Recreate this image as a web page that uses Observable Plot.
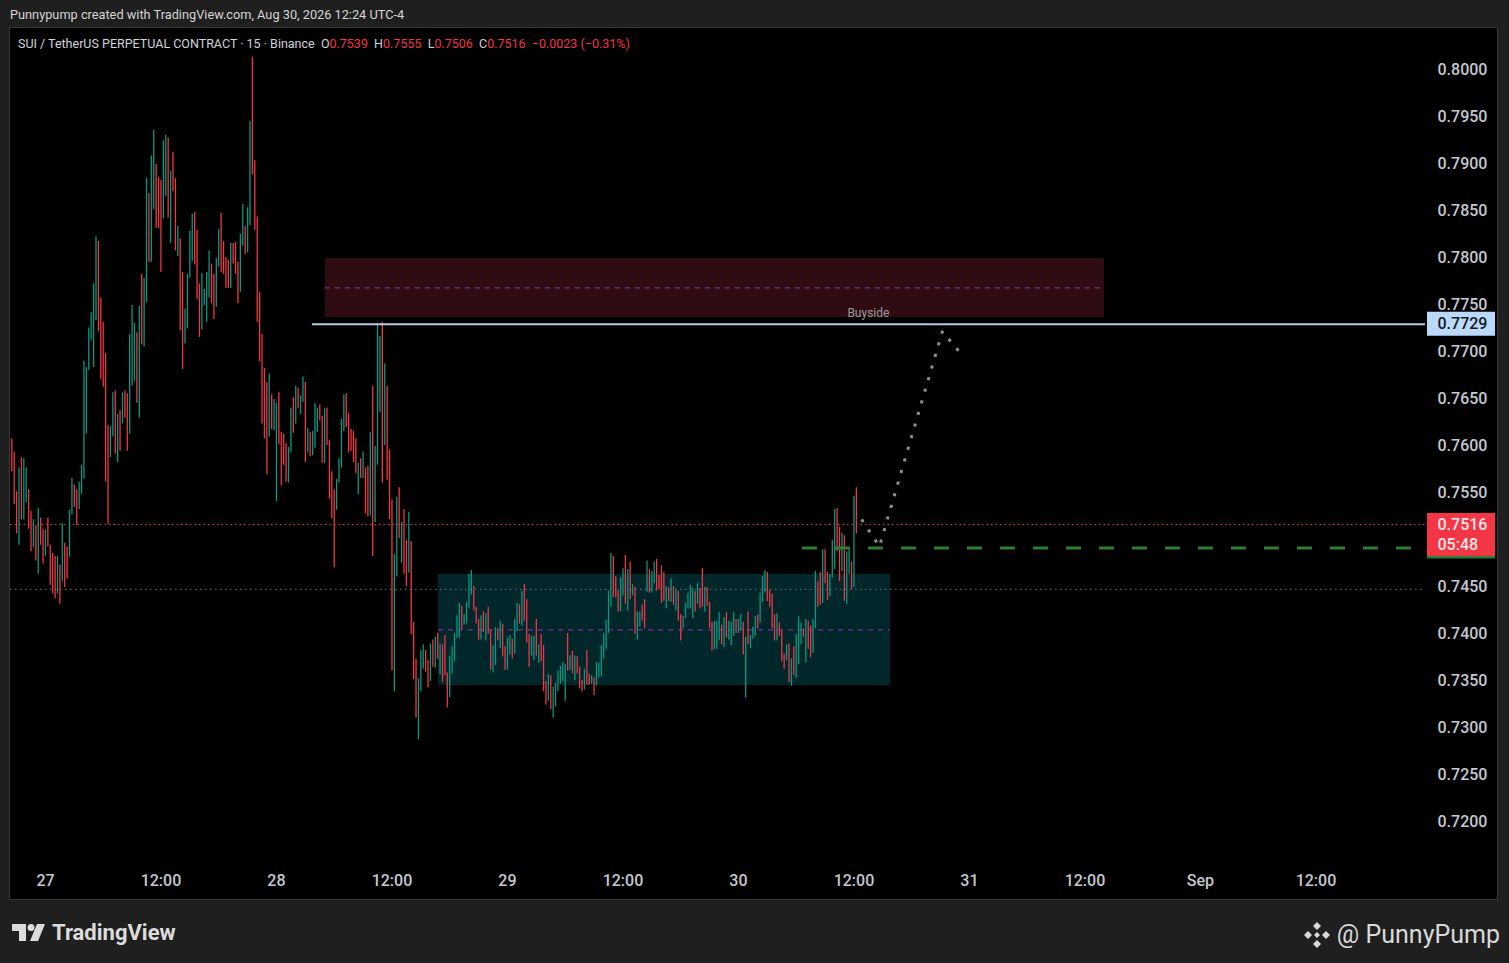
<!DOCTYPE html>
<html>
<head>
<meta charset="utf-8">
<script src="https://cdn.jsdelivr.net/npm/d3@7"></script>
<script src="https://cdn.jsdelivr.net/npm/@observablehq/plot@0.6"></script>
<style>
  body { margin: 0; width: 1509px; height: 963px; overflow: hidden; background: #1f1f1f; position: relative; font-family: Roboto, sans-serif; }
  #head { position: absolute; left: 10px; top: 7px; font-size: 12.75px; line-height: 16px; color: #d6d6d6; }
  #panel { position: absolute; left: 9px; top: 27px; width: 1487px; height: 871px; border: 1px solid #383838; background: #000; }
  #legend { position: absolute; left: 8px; top: 8px; font-size: 12.5px; line-height: 15px; color: #d1d4dc; white-space: pre; }
  #legend .v { color: #f23645; }
  #logo { position: absolute; left: 12px; top: 920px; display: flex; align-items: center; gap: 7px; color: #dcdcdc; font-size: 22px; font-weight: 700; }
  #sign { position: absolute; right: 9px; top: 920px; display: flex; align-items: center; gap: 6px; color: #d9d9d9; font-size: 25px; }
</style>
</head>
<body>
<div id="head">Punnypump created with TradingView.com, Aug 30, 2026 12:24 UTC-4</div>
<div id="panel">
  <div id="chart"></div>
  <div id="legend">SUI / TetherUS PERPETUAL CONTRACT · 15 · Binance  O<span class="v">0.7539</span>  H<span class="v">0.7555</span>  L<span class="v">0.7506</span>  C<span class="v">0.7516</span>  <span class="v">−0.0023 (−0.31%)</span></div>
</div>
<div id="logo">
  <svg width="33" height="17" viewBox="0 0 33 17"><path d="M0 0H14V17H7V7H0Z" fill="#dcdcdc"/><circle cx="19" cy="3.5" r="3.5" fill="#dcdcdc"/><path d="M25 0H33L26 17H18Z" fill="#dcdcdc"/></svg>
  <span>TradingView</span>
</div>
<div id="sign">
  <svg width="28" height="28" viewBox="0 0 28 28" fill="#d9d9d9"><path d="M14 1l4 4-4 4-4-4z"/><path d="M14 19l4 4-4 4-4-4z"/><path d="M5 10l4 4-4 4-4-4z"/><path d="M23 10l4 4-4 4-4-4z"/><path d="M14 11l3 3-3 3-3-3z"/></svg>
  <span>@ PunnyPump</span>
</div>
<script>
// 15 minute bars, SUI/USDT perp, first bar Aug 26 20:30 (UTC-4 wall clock)
const firstBar = "2026-08-26T20:30Z"
const barMinutes = 15

// lows and highs in 0.0001 units
const lows = [
  7572,7537,7506,7494,7521,7521,7539,7511,7487,7491, 7477,7463,7494,7474,7482,7492,7451,7442,7437,7442,
  7431,7455,7449,7458,7481,7526,7534,7515,7532,7548, 7564,7612,7680,7712,7683,7733,7721,7670,7662,7561,
  7516,7587,7609,7591,7582,7594,7623,7629,7594,7612, 7663,7668,7645,7629,7707,7705,7752,7795,7795,7851,
  7831,7831,7784,7841,7865,7842,7815,7870,7807,7801, 7722,7681,7708,7724,7778,7796,7792,7755,7715,7723,
  7749,7731,7757,7751,7734,7747,7790,7784,7782,7767, 7767,7767,7793,7782,7751,7763,7812,7803,7805,7834,
  7888,7829,7731,7689,7623,7607,7569,7609,7617,7616, 7540,7601,7557,7579,7561,7560,7592,7613,7623,7639,
  7633,7646,7582,7592,7588,7589,7597,7614,7626,7581, 7581,7600,7543,7522,7470,7531,7560,7576,7615,7619,
  7592,7594,7582,7570,7548,7565,7565,7527,7524,7525, 7482,7518,7579,7635,7560,7600,7563,7521,7360,7338,
  7460,7501,7475,7463,7450,7464,7399,7351,7310,7287, 7338,7362,7359,7342,7349,7364,7363,7372,7356,7348,
  7355,7321,7332,7357,7370,7395,7395,7404,7409,7410, 7427,7441,7424,7410,7393,7393,7401,7392,7399,7361,
  7358,7366,7392,7384,7375,7361,7361,7377,7373,7378, 7402,7410,7408,7413,7390,7364,7376,7371,7376,7368,
  7370,7338,7324,7328,7319,7310,7322,7338,7346,7349, 7328,7360,7361,7357,7350,7357,7341,7338,7340,7345,
  7345,7346,7334,7344,7353,7354,7373,7383,7400,7428, 7438,7438,7423,7423,7440,7431,7424,7436,7440,7399,
  7393,7407,7413,7405,7444,7443,7443,7453,7445,7447, 7432,7434,7426,7434,7433,7430,7424,7413,7392,7405,
  7416,7426,7426,7416,7423,7431,7426,7428,7423,7429, 7405,7381,7383,7383,7392,7388,7385,7395,7393,7387,
  7397,7400,7400,7403,7377,7331,7388,7384,7394,7397, 7405,7411,7433,7443,7434,7428,7405,7392,7392,7397,
  7370,7362,7371,7348,7344,7355,7352,7367,7388,7396, 7369,7383,7374,7379,7405,7428,7430,7432,7453,7435,
  7439,7459,7468,7487,7455,7466,7434,7431,7463,7447, 7449,7506
]
const highs = [
  7607,7593,7551,7576,7587,7586,7576,7553,7530,7521, 7515,7533,7523,7510,7510,7523,7494,7485,7482,7482,
  7473,7517,7496,7492,7531,7565,7558,7553,7561,7579, 7690,7683,7725,7741,7772,7822,7817,7757,7731,7698,
  7621,7620,7656,7658,7633,7637,7656,7658,7655,7718, 7749,7730,7720,7748,7782,7778,7884,7868,7908,7935,
  7899,7885,7882,7924,7930,7927,7892,7912,7884,7833, 7820,7784,7745,7782,7828,7846,7848,7829,7772,7783,
  7766,7784,7807,7793,7782,7799,7830,7847,7817,7800, 7797,7815,7815,7816,7795,7825,7856,7833,7853,7945,
  8013,7903,7843,7763,7718,7682,7667,7676,7654,7649, 7645,7656,7614,7612,7602,7598,7640,7651,7663,7661,
  7653,7673,7667,7618,7614,7615,7645,7640,7643,7631, 7639,7640,7605,7572,7553,7564,7586,7628,7654,7655,
  7634,7617,7615,7607,7581,7586,7593,7576,7578,7614, 7663,7599,7729,7716,7731,7687,7663,7595,7542,7484,
  7545,7555,7518,7532,7499,7529,7498,7412,7373,7352, 7382,7388,7382,7371,7389,7393,7396,7400,7389,7388,
  7398,7358,7376,7386,7400,7419,7432,7429,7420,7433, 7463,7467,7450,7428,7415,7419,7423,7421,7428,7403,
  7387,7406,7405,7413,7410,7386,7395,7398,7394,7415, 7432,7431,7445,7452,7436,7399,7397,7397,7415,7388,
  7399,7387,7349,7356,7355,7343,7347,7360,7365,7369, 7367,7400,7376,7381,7376,7375,7364,7350,7362,7382,
  7357,7355,7353,7369,7368,7387,7400,7414,7445,7485, 7482,7460,7446,7459,7469,7483,7468,7476,7452,7449,
  7423,7423,7430,7436,7477,7468,7466,7476,7479,7462, 7472,7465,7450,7449,7458,7450,7447,7445,7420,7418,
  7432,7442,7451,7448,7445,7453,7448,7469,7449,7449, 7433,7412,7413,7413,7422,7409,7417,7422,7413,7412,
  7422,7415,7415,7420,7412,7396,7423,7398,7407,7418, 7420,7443,7461,7467,7465,7446,7442,7420,7421,7411,
  7403,7378,7388,7389,7373,7386,7399,7418,7411,7405, 7415,7413,7408,7415,7466,7455,7465,7489,7489,7465,
  7463,7499,7532,7533,7513,7507,7504,7487,7489,7476, 7546,7555
]
// G = close above open, R = close below open
const dirs =
  "RRRGRGGRRG" + "RGRRGRRRRG" + "RGRRGGRRGG" + "GGGGGGRRRR" + "RGGRGRGRRG" +
  "GGRGRGGRGG" + "RRRGGRGRRG" + "RRGGGGRRRG" + "GGGRRGGRRR" + "RGRRRGGRGG" +
  "RRRRRRRGRG" + "GRRRRGGRGR" + "GGRGRGGGRR" + "GRRRRGGGGR" + "RRRRGRGRRG" +
  "RGGGRGRRRG" + "GRGRRGRRRG" + "GGRRGRGRGR" + "RRGGGGGRGG" + "GGRRRGRGRR" +
  "GGRGRRGGRG" + "GRGRRRGGRG" + "RRRGRGGGGG" + "GRGRGRRRGR" + "RGRGGGGGGG" +
  "RRRGGRGRGR" + "GGRRGRGGRR" + "RRGRGRGRRG" + "GGGGRGRRGR" + "RRGGGRGRGG" +
  "GRGGRGRGGG" + "RGGGRRRRGR" + "RRGRGRGGGR" + "GRRGGRRGRR" + "GGGRRGRGGR" + "GR"

// zones drawn on the chart
const zoneStart = ["2026-08-28T05:05Z", "2026-08-28T16:50Z"]
const zoneEnd   = ["2026-08-31T14:02Z", "2026-08-30T15:48Z"]
const zoneLow   = [0.77362, 0.73447]
const zoneHigh  = [0.7799, 0.74628]

const buysidePrice = 0.7729
const buysideStart = "2026-08-28T03:44Z"
const entryPrice = 0.7491
const entryStart = "2026-08-30T06:39Z"
const lastPrice = 0.7516
const prevLevel = 0.7447
const countdown = "05:48"

// projected path
const pathTimes = ["2026-08-30T12:53Z", "2026-08-30T14:39Z", "2026-08-30T21:11Z", "2026-08-30T22:45Z"]
const pathPrices = [0.7520, 0.74926, 0.77213, 0.77021]

// 0.7500 sits under the last price label, so it is not shown
const priceTicks = [0.72, 0.725, 0.73, 0.735, 0.74, 0.745, 0.755, 0.76, 0.765, 0.77, 0.775, 0.78, 0.785, 0.79, 0.795, 0.80]
const timeTicks = ["2026-08-27T00:00Z", "2026-08-27T12:00Z", "2026-08-28T00:00Z", "2026-08-28T12:00Z", "2026-08-29T00:00Z", "2026-08-29T12:00Z",
  "2026-08-30T00:00Z", "2026-08-30T12:00Z", "2026-08-31T00:00Z", "2026-08-31T12:00Z", "2026-09-01T00:00Z", "2026-09-01T12:00Z"]
const timeLabels = ["27", "12:00", "28", "12:00", "29", "12:00", "30", "12:00", "31", "12:00", "Sep", "12:00"]

const green = "#089981", red = "#f23645"
const t0 = new Date(firstBar).getTime()
const candles = lows.map((l, i) => ({
  t: new Date(t0 + i * barMinutes * 60000),
  lo: l / 1e4,
  hi: highs[i] / 1e4,
  up: dirs[i] == "G"
}))

const zones = zoneStart.map((s, i) => ({
  x1: new Date(s), x2: new Date(zoneEnd[i]), y1: zoneLow[i], y2: zoneHigh[i], mid: (zoneLow[i] + zoneHigh[i]) / 2
}))
const path = pathTimes.map((t, i) => ({t: new Date(t), p: pathPrices[i]}))
const tTicks = timeTicks.map(d => new Date(d))

const xDomain = [new Date("2026-08-26T20:22Z"), new Date("2026-09-01T23:23Z")]
const xEnd = xDomain[1]

let chart = Plot.plot({
  width: 1487,
  height: 871,
  marginLeft: 0,
  marginRight: 72,
  marginTop: 0,
  marginBottom: 37,
  x: {type: "utc", domain: xDomain},
  y: {domain: [0.715638, 0.804362]},
  style: {
    background: "#000",
    color: "#c5c8cf",
    fontFamily: "Roboto, sans-serif",
    fontSize: "16px",
    overflow: "visible"
  },
  marks: [
    Plot.rect(zones, {x1: "x1", x2: "x2", y1: "y1", y2: "y2", fill: (d, i) => i == 0 ? "#2f0c12" : "#01272b"}),
    Plot.ruleY(zones, {y: "mid", x1: "x1", x2: "x2", stroke: "#9c27b0", strokeOpacity: 0.85, strokeWidth: 1.3, strokeDasharray: "5 5"}),
    Plot.ruleY([prevLevel], {stroke: "#6f727a", strokeDasharray: "1.5 3.5"}),
    Plot.ruleY([lastPrice], {stroke: red, strokeDasharray: "1.5 3"}),
    Plot.ruleX(candles, {x: "t", y1: "lo", y2: "hi", stroke: d => d.up ? green : red, strokeWidth: 1.3}),
    Plot.ruleY([{p: buysidePrice, x1: new Date(buysideStart)}], {y: "p", x1: "x1", x2: () => xEnd, stroke: "#b3cdea", strokeWidth: 2}),
    Plot.text([{p: buysidePrice}], {x: () => new Date("2026-08-30T13:30Z"), y: "p", text: () => "Buyside", dy: -11, fill: "#9a9a9a", fontSize: 12}),
    Plot.ruleY([{p: entryPrice, x1: new Date(entryStart)}], {y: "p", x1: "x1", x2: () => xEnd, stroke: "#2e7d32", strokeWidth: 3, strokeDasharray: "15 18"}),
    Plot.line(path, {x: "t", y: "p", stroke: "#8b8e96", strokeWidth: 3, strokeDasharray: "0.1 12", strokeLinecap: "square"}),
    Plot.axisY(priceTicks, {anchor: "right", tickSize: 0, tickPadding: 12, tickFormat: d => d.toFixed(4), label: null, fontSize: 16, fontWeight: 500}),
    Plot.axisX(tTicks, {anchor: "bottom", tickSize: 0, tickPadding: 12, label: null, fontSize: 16, fontWeight: 500,
      tickFormat: d => timeLabels[tTicks.findIndex(t => +t == +d)]}),
    // price labels on the axis
    Plot.rect([{p: entryPrice}], {x1: () => xEnd, x2: () => xEnd, y1: "p", y2: "p", insetLeft: 2, insetRight: -70, insetTop: -11, insetBottom: -11, fill: "#2e7d32"}),
    Plot.rect([{p: buysidePrice}], {x1: () => xEnd, x2: () => xEnd, y1: "p", y2: "p", insetLeft: 2, insetRight: -70, insetTop: -12, insetBottom: -12, fill: "#bbd9fb"}),
    Plot.text([{p: buysidePrice}], {x: () => xEnd, y: "p", text: d => d.p.toFixed(4), dx: 12, textAnchor: "start", fill: "#131722", fontSize: 16, fontWeight: 500}),
    Plot.rect([{p: lastPrice}], {x1: () => xEnd, x2: () => xEnd, y1: "p", y2: "p", insetLeft: 2, insetRight: -70, insetTop: -11, insetBottom: -32, fill: red}),
    Plot.text([{p: lastPrice}], {x: () => xEnd, y: "p", text: d => d.p.toFixed(4), dx: 12, textAnchor: "start", fill: "#fde6e8", fontSize: 16, fontWeight: 500}),
    Plot.text([{p: lastPrice}], {x: () => xEnd, y: "p", text: () => countdown, dx: 12, dy: 20, textAnchor: "start", fill: "#fde6e8", fontSize: 16, fontWeight: 500})
  ]
})
d3.select('#chart').append(() => chart)
</script>
</body>
</html>
